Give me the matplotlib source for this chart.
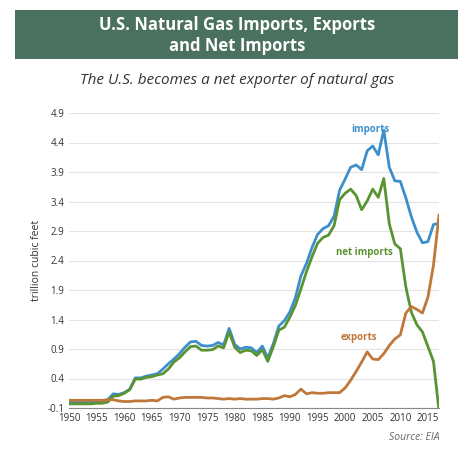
import matplotlib
matplotlib.use("Agg")
import matplotlib.pyplot as plt
from matplotlib.patches import Rectangle

years = list(range(1950, 2018))
imports = [0.0,0.0,0.0,0.0,0.0,0.01,0.01,0.04,0.14,0.13,
           0.16,0.22,0.41,0.41,0.44,0.46,0.48,0.56,0.65,0.73,
           0.82,0.93,1.02,1.03,0.96,0.95,0.96,1.01,0.97,1.25,
           0.98,0.90,0.93,0.92,0.84,0.95,0.75,0.99,1.29,1.38,
           1.53,1.77,2.14,2.35,2.62,2.84,2.94,2.99,3.15,3.59,
           3.78,3.98,4.02,3.94,4.26,4.34,4.19,4.61,3.98,3.75,
           3.74,3.46,3.14,2.88,2.70,2.72,3.01,3.03]
exports = [0.03,0.03,0.03,0.03,0.03,0.03,0.03,0.04,0.04,0.02,
           0.01,0.01,0.02,0.02,0.02,0.03,0.02,0.08,0.09,0.05,
           0.07,0.08,0.08,0.08,0.08,0.07,0.07,0.06,0.05,0.06,
           0.05,0.06,0.05,0.05,0.05,0.06,0.06,0.05,0.07,0.11,
           0.09,0.13,0.22,0.14,0.16,0.15,0.15,0.16,0.16,0.16,
           0.24,0.37,0.52,0.68,0.85,0.73,0.72,0.82,0.96,1.07,
           1.14,1.51,1.62,1.57,1.51,1.78,2.32,3.17]
net_imports = [-0.03,-0.03,-0.03,-0.03,-0.03,-0.02,-0.02,0.0,0.10,0.11,
               0.15,0.21,0.39,0.39,0.42,0.43,0.46,0.48,0.56,0.68,
               0.75,0.85,0.94,0.95,0.88,0.88,0.89,0.95,0.92,1.19,
               0.93,0.84,0.88,0.87,0.79,0.89,0.69,0.94,1.22,1.27,
               1.44,1.64,1.92,2.21,2.46,2.69,2.79,2.83,2.99,3.43,
               3.54,3.61,3.50,3.26,3.41,3.61,3.47,3.79,3.02,2.68,
               2.60,1.95,1.52,1.31,1.19,0.94,0.69,-0.14]
yticks = [-0.1,0.4,0.9,1.4,1.9,2.4,2.9,3.4,3.9,4.4,4.9]
xticks = list(range(1950, 2020, 5))

plt.rcParams['font.family'] = ['Open Sans', 'DejaVu Sans']
fig = plt.figure(figsize=(4.74, 4.53), dpi=100)
fig.patches.append(Rectangle((15/474, 1-59/453), 443/474, 49/453, transform=fig.transFigure,
                             facecolor='#4a705f', edgecolor='none'))
fig.text(0.5, 1-25/453, "U.S. Natural Gas Imports, Exports", ha='center', va='center',
         color='white', fontsize=12, fontweight='bold')
fig.text(0.5, 1-46/453, "and Net Imports", ha='center', va='center',
         color='white', fontsize=12, fontweight='bold')
fig.text(0.5, 1-80/453, "The U.S. becomes a net exporter of natural gas", ha='center', va='center',
         color='#333333', fontsize=11, style='italic')
fig.text(440/474, 1-438/453, "Source: EIA", ha='right', va='center', color='#666666',
         fontsize=7.5, style='italic')

ax = fig.add_axes([69/474, 1-408/453, 370/474, 295/453])
ax.plot(years, imports, color='#3d8fcc', lw=2)
ax.plot(years, net_imports, color='#5a9432', lw=2)
ax.plot(years, exports, color='#c0773a', lw=2)
ax.set_xlim(1950, 2017)
ax.set_ylim(-0.1, 4.9)
ax.set_yticks(yticks)
ax.set_yticklabels([f"{v:.1f}" for v in yticks])
ax.set_xticks(xticks)
ax.tick_params(labelsize=7, length=0, colors='#333333')
ax.grid(axis='y', color='#e3e3e3', lw=0.8)
ax.set_axisbelow(True)
for s in ['top', 'right', 'left']:
    ax.spines[s].set_visible(False)
ax.spines['bottom'].set_color('#888888')
ax.set_ylabel("trillion cubic feet", fontsize=7.5, color='#333333')
ax.text(2004.5, 4.57, "imports", color='#3d8fcc', fontsize=7, fontweight='bold', ha='center')
ax.text(2003.5, 2.50, "net imports", color='#5a9432', fontsize=7, fontweight='bold', ha='center')
ax.text(2002.5, 1.05, "exports", color='#c0773a', fontsize=7, fontweight='bold', ha='center')
fig.savefig("out.png", dpi=100)
